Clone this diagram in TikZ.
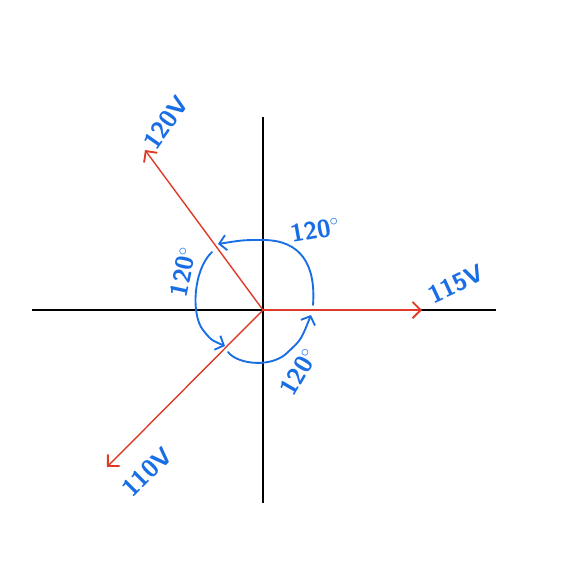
\documentclass[tikz,border=0pt]{standalone}
\usepackage{tikz}
\usetikzlibrary{arrows.meta,positioning}
\definecolor{phasorred}{RGB}{222,60,40}
\definecolor{penblue}{RGB}{25,110,230}
\tikzset{
  axis/.style={line width=1.1pt,black},
  phasor/.style={line width=1.2pt,phasorred,-{Straight Barb[length=7pt,width=14pt,line width=1.6pt]}},
  turn/.style={line width=1.6pt,penblue,line cap=round,-{Straight Barb[length=6pt,width=13pt,line width=1.6pt]}},
  every node/.style={font=\sffamily\bfseries\fontsize{21}{23}\selectfont,text=penblue,inner sep=1pt}
}

\begin{document}
\begin{tikzpicture}[x=0.03cm,y=0.03cm]
  % Page window
  \useasboundingbox (-263,-269) rectangle (310,310);

  % Axes
  \coordinate (O) at (0,0);
  \coordinate (xl) at (-231,0); \coordinate (xr) at (233,0);
  \coordinate (yt) at (0,193);  \coordinate (yb) at (0,-193);
  \draw[axis] (xl) -- (xr);
  \draw[axis] (yt) -- (yb);

  % Phasors
  \coordinate (Va) at (159,0);
  \coordinate (Vb) at (-118,160);
  \coordinate (Vc) at (-156,-157);
  \draw[phasor] (O) -- (Va);
  \draw[phasor] (O) -- (Vb);
  \draw[phasor] (O) -- (Vc);
  \node[rotate=25] (la) at (193,26) {115V};
  \node[rotate=55] (lb) at (-97,187) {120V};
  \node[rotate=45] (lc) at (-116,-162) {110V};

  % Angles between phasors
  \draw[turn] (50,5) .. controls (53,45) and (38,70) .. (0,70)
              .. controls (-20,70) .. (-45,66);
  \draw[turn] (-51,58) .. controls (-70,40) and (-72,-5) .. (-60,-20)
              .. controls (-52,-30) .. (-38,-36);
  \draw[turn] (-35,-42) .. controls (-25,-55) and (10,-58) .. (25,-42)
              .. controls (38,-30) .. (48,-5);
  \node[rotate=10] (ta) at (52,80) {120$^\circ$};
  \node[rotate=78] (tb) at (-80,38) {120$^\circ$};
  \node[rotate=60] (tc) at (36,-62) {120$^\circ$};
\end{tikzpicture}
\end{document}
